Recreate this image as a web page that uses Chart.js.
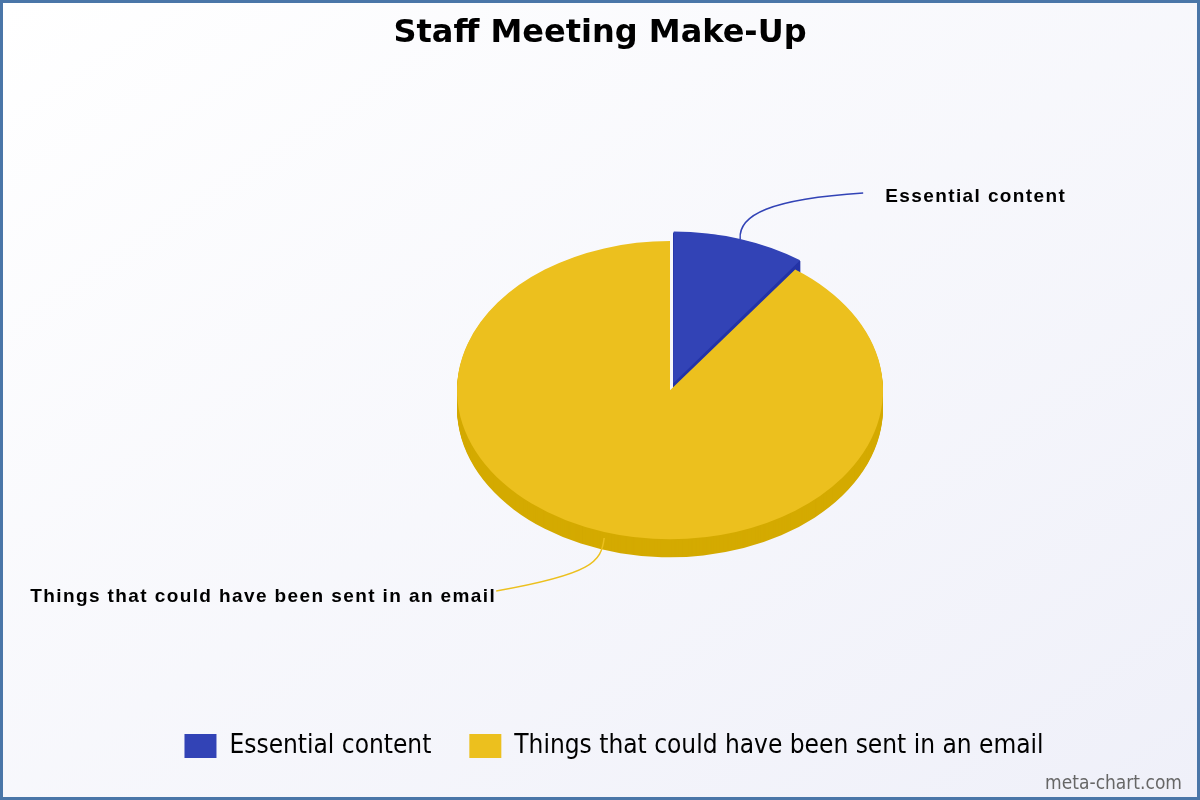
<!DOCTYPE html>
<html>
<head>
<meta charset="utf-8">
<script src="https://cdn.jsdelivr.net/npm/chart.js@4"></script>
<style>
  html, body { margin: 0; padding: 0; }
  #wrap {
    width: 1200px; height: 800px; box-sizing: border-box;
    border: 3px solid #4a76a8;
    background: linear-gradient(to bottom right, #ffffff, #eff0f9);
    position: relative;
  }
  #wrap canvas { display: block; }
</style>
</head>
<body>
<div id="wrap"><canvas id="pieChart" width="1194" height="794"></canvas></div>
<script>
const title = 'Staff Meeting Make-Up';
const categories = ['Essential content', 'Things that could have been sent in an email'];
const values = [10, 90];
const topColors = ['#3243b6', '#ecc01e'];
const sideColors = ['#2333a6', '#d4aa00'];
const explode = [40, 0];

const TILT = 0.7;       // vertical squash of the pie
const DEPTH = 18;       // thickness of the 3d edge
const PIE_SHIFT = 140;  // move pie right of the centre
const LEGEND_SHIFT = 14;

function squash(ctx, cx, cy, dy) {
  ctx.translate(cx, cy + dy);
  ctx.scale(1, TILT);
  ctx.translate(-cx, -cy);
}

function arcGeom(arc) {
  const p = arc.getProps(['x', 'y', 'startAngle', 'endAngle', 'outerRadius']);
  const off = (arc.options.offset || 0) / 4;
  const mid = (p.startAngle + p.endAngle) / 2;
  const fix = 1 - Math.sin(Math.min(Math.PI, p.endAngle - p.startAngle));
  return {
    x: p.x + Math.cos(mid) * off,
    y: p.y + Math.sin(mid) * off,
    cy: p.y,
    r: p.outerRadius + off * fix,
    start: p.startAngle, end: p.endAngle, mid: mid
  };
}

// page point on the top face edge for a given angle
function edgePoint(g, a) {
  return {
    x: g.x + Math.cos(a) * g.r,
    y: g.cy + (g.y + Math.sin(a) * g.r - g.cy) * TILT
  };
}

const pie3d = {
  id: 'pie3d',
  afterLayout(chart) {
    chart.chartArea.left += PIE_SHIFT;
    chart.chartArea.width -= PIE_SHIFT;
    chart.legend.left += LEGEND_SHIFT;
    chart.legend.right += LEGEND_SHIFT;
  },
  beforeDatasetsDraw(chart) {
    const ctx = chart.ctx;
    const arcs = chart.getDatasetMeta(0).data;
    const order = arcs.map((a, i) => i).reverse();
    order.forEach(i => {
      const g = arcGeom(arcs[i]);
      ctx.fillStyle = sideColors[i];
      for (let t = DEPTH; t >= 1; t--) {
        ctx.save();
        squash(ctx, g.x, g.cy, t);
        ctx.beginPath();
        ctx.moveTo(g.x, g.y);
        ctx.arc(g.x, g.y, g.r, g.start, g.end);
        ctx.closePath();
        ctx.fill();
        ctx.restore();
      }
    });
    ctx.save();
    squash(ctx, arcs[0].x, arcs[0].y, 0);
  },
  afterDatasetsDraw(chart) {
    chart.ctx.restore();
  },
  afterDraw(chart) {
    const ctx = chart.ctx;
    const arcs = chart.getDatasetMeta(0).data;
    ctx.save();
    ctx.lineWidth = 1.5;
    ctx.font = 'bold 19px "Liberation Sans", Arial, sans-serif';
    ctx.letterSpacing = '1.4px';
    ctx.fillStyle = '#000';
    ctx.textBaseline = 'middle';

    // essential content: leader up and to the right
    let g = arcGeom(arcs[0]);
    let p = edgePoint(g, g.mid);
    let e = { x: p.x + 123, y: p.y - 46 };
    ctx.strokeStyle = topColors[0];
    ctx.beginPath();
    ctx.moveTo(p.x, p.y);
    ctx.bezierCurveTo(p.x - 2, p.y - 24, p.x + 30, p.y - 40, e.x, e.y);
    ctx.stroke();
    ctx.textAlign = 'left';
    ctx.fillText(categories[0], e.x + 22, e.y + 4);

    // email: leader down and to the left
    g = arcGeom(arcs[1]);
    p = edgePoint(g, g.mid);
    p.y += 6;
    e = { x: p.x - 108, y: p.y + 53 };
    ctx.strokeStyle = topColors[1];
    ctx.beginPath();
    ctx.moveTo(p.x, p.y);
    ctx.bezierCurveTo(p.x - 3, p.y + 24, p.x - 12, p.y + 36, e.x, e.y);
    ctx.stroke();
    ctx.textAlign = 'right';
    ctx.fillText(categories[1], e.x, e.y + 6);

    ctx.letterSpacing = '0px';
    ctx.font = '19px "DejaVu Sans Condensed", "DejaVu Sans", sans-serif';
    ctx.fillStyle = '#666';
    ctx.textAlign = 'right';
    ctx.textBaseline = 'alphabetic';
    ctx.fillText('meta-chart.com', chart.width - 15, chart.height - 8);
    ctx.restore();
  }
};

new Chart(document.getElementById('pieChart'), {
  type: 'pie',
  data: {
    labels: categories,
    datasets: [{
      data: values,
      backgroundColor: topColors,
      borderWidth: 0,
      offset: explode,
      clip: false
    }]
  },
  options: {
    responsive: false,
    devicePixelRatio: 1,
    animation: false,
    radius: 213,
    layout: { padding: { top: 0, bottom: 28, left: 0, right: 0 } },
    plugins: {
      title: {
        display: true,
        text: title,
        color: '#000',
        font: { family: '"DejaVu Sans", Verdana, sans-serif', size: 32, weight: 'bold' },
        padding: { top: 11, bottom: 33 }
      },
      legend: {
        position: 'bottom',
        labels: {
          color: '#000',
          boxWidth: 32,
          boxHeight: 24,
          padding: 38,
          font: { family: '"DejaVu Sans Condensed", "DejaVu Sans", sans-serif', size: 26 }
        }
      },
      tooltip: { enabled: false }
    }
  },
  plugins: [pie3d]
});
</script>
</body>
</html>
